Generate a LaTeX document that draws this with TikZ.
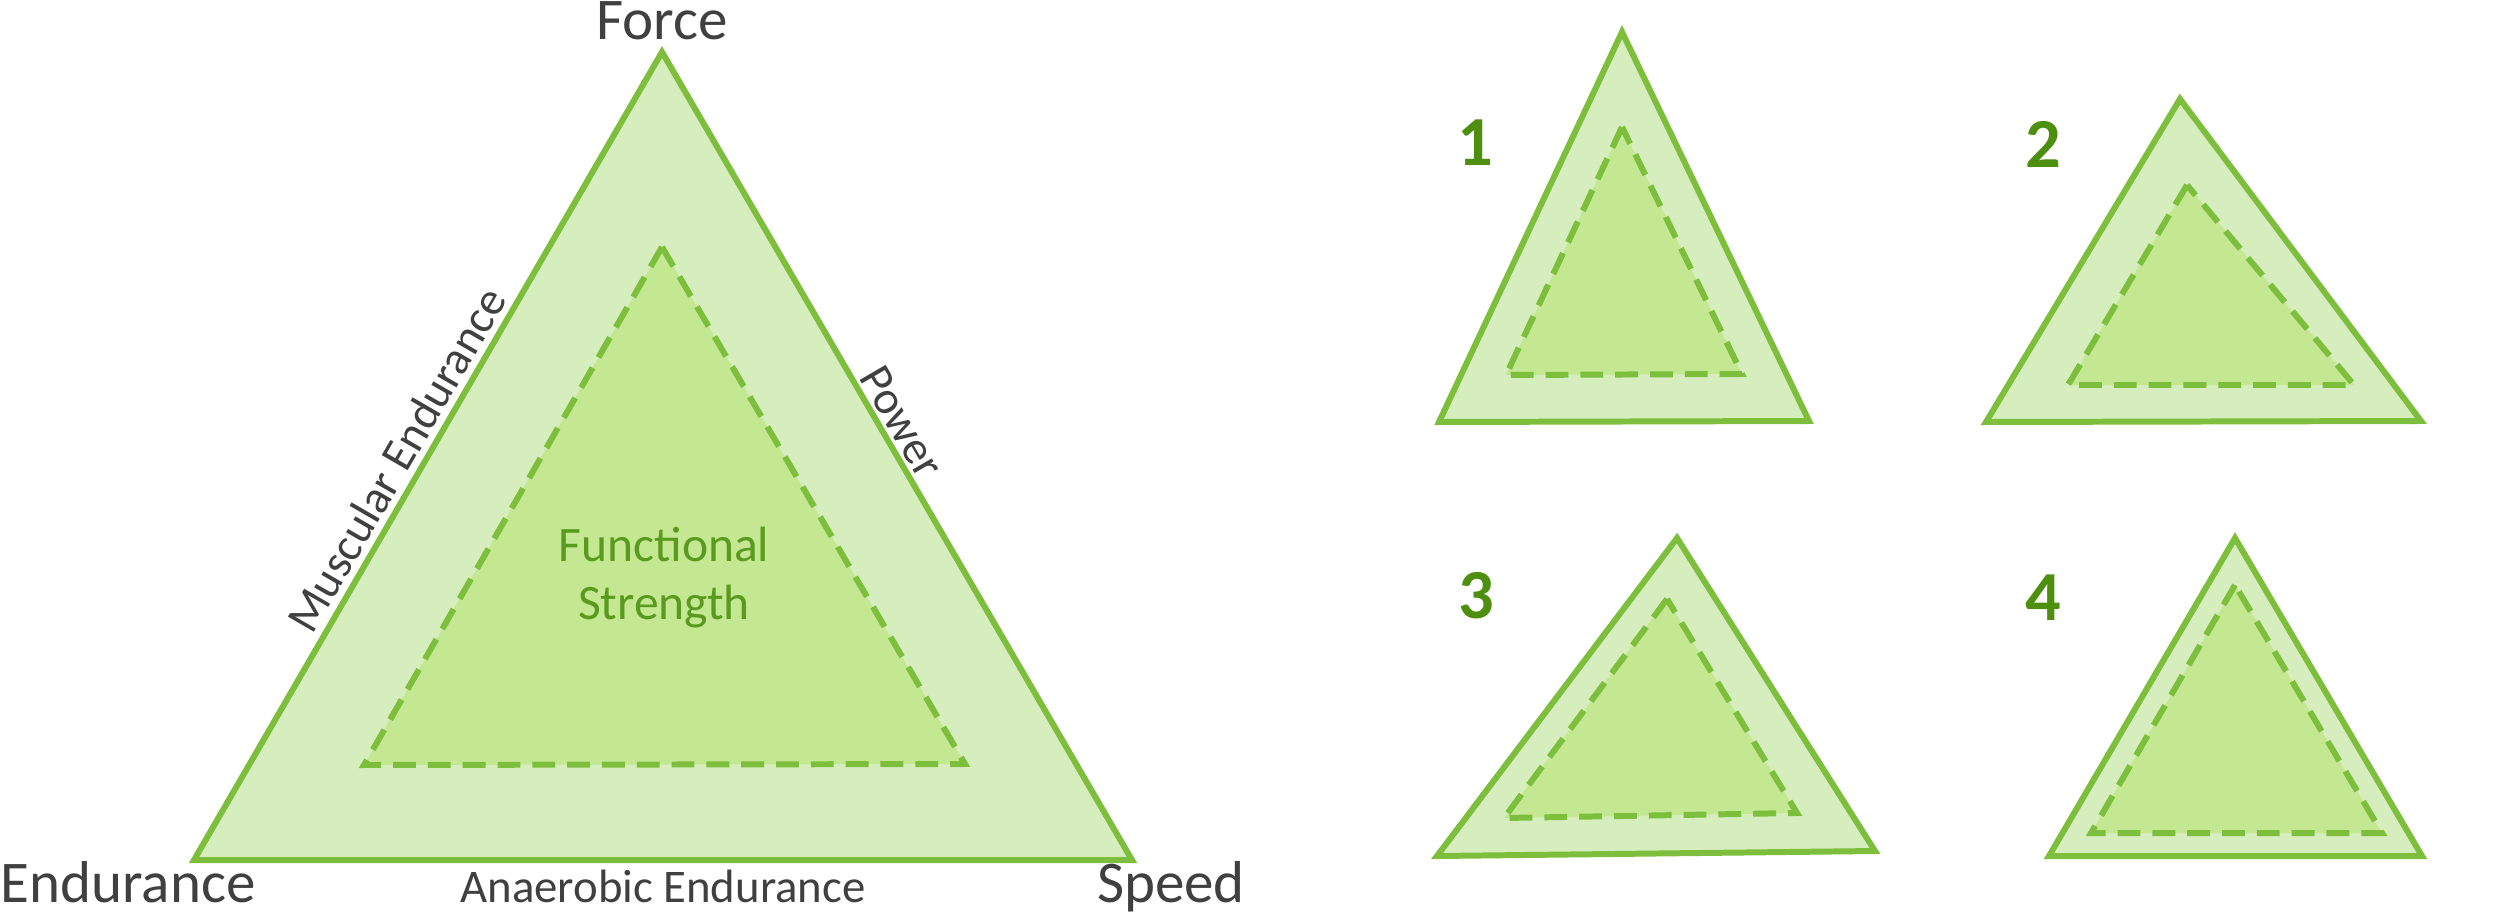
\documentclass[tikz,border=0pt]{standalone}
\usepackage{fontspec}
\setmainfont{Carlito}
\definecolor{lightfill}{HTML}{D6EDBE}
\definecolor{midfill}{HTML}{C3E891}
\definecolor{edgegreen}{HTML}{7DBE3C}
\definecolor{darkgreen}{HTML}{4E8F10}
\definecolor{fsgreen}{HTML}{5A9A1E}
\definecolor{textgray}{HTML}{404040}
\begin{document}
\begin{tikzpicture}[x=0.01cm,y=-0.01cm,
  outertri/.style={fill=lightfill,draw=edgegreen,line width=1.7pt},
  innertri/.style={fill=midfill,draw=edgegreen,line width=1.7pt,dash pattern=on 6.5pt off 3.4pt},
  biglab/.style={text=textgray,font=\fontsize{16.8}{20}\selectfont,inner sep=0pt},
  sidelab/.style={text=textgray,font=\fontsize{13.3}{16}\selectfont},
  numlab/.style={text=darkgreen,font=\fontsize{20}{24}\selectfont\bfseries,inner sep=0pt}]
\useasboundingbox (0,0) rectangle (2500,915);
% main triangle
\coordinate (F) at (662,52);
\coordinate (E) at (194,860);
\coordinate (S) at (1132,860);
\draw[outertri] (F) -- (E) -- (S) -- cycle;
\draw[innertri] (662,247) -- (364,765) -- (965,764) -- cycle;
\node[biglab,anchor=base] (force) at (662,40) {Force};
\node[biglab,anchor=base] (endur) at (128,902) {Endurance};
\node[biglab,anchor=base] (speed) at (1171,902) {Speed};
\node[sidelab,anchor=base,inner sep=0pt] (anaer) at (663,902) {Anaerobic Endurance};
\path (E) -- (F) node[sidelab,sloped,above,pos=0.48,inner sep=2.4pt] (muscle) {Muscular Endurance};
\path (F) -- (S) node[sidelab,sloped,above,pos=0.471,inner sep=1.6pt] (power) {Power};
\node[text=fsgreen,font=\fontsize{14.1}{16.5}\selectfont,align=center] (funct) at (664,578) {Functional\\Strength};
% small triangles
\draw[outertri] (1622,32) -- (1439,422) -- (1809,421) -- cycle;
\draw[innertri] (1622,127) -- (1506,375) -- (1742,374) -- cycle;
\node[numlab,anchor=base] (one) at (1475,165) {1};
\draw[outertri] (2180,99) -- (1986,422) -- (2421,421) -- cycle;
\draw[innertri] (2187,185) -- (2068,385) -- (2354,385) -- cycle;
\node[numlab,anchor=base] (two) at (2043,167) {2};
\draw[outertri] (1677,538) -- (1437,856) -- (1875,851) -- cycle;
\draw[innertri] (1667,599) -- (1504,818) -- (1797,813) -- cycle;
\node[numlab,anchor=base] (three) at (1476,618) {3};
\draw[outertri] (2235,538) -- (2049,856) -- (2422,856) -- cycle;
\draw[innertri] (2235,585) -- (2091,833) -- (2382,833) -- cycle;
\node[numlab,anchor=base] (four) at (2043,620) {4};
\end{tikzpicture}
\end{document}
